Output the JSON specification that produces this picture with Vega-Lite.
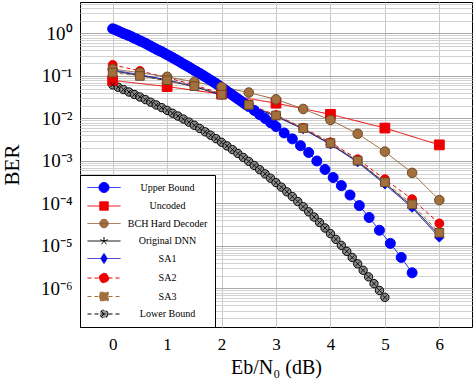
{
  "$schema": "https://vega.github.io/schema/vega-lite/v6.json",
  "width": 392,
  "height": 325,
  "autosize": {"type": "none"},
  "padding": {"left": 80, "top": 2, "right": 2, "bottom": 58},
  "background": "white",
  "config": {
    "font": "Liberation Serif",
    "view": {"stroke": "black", "strokeWidth": 1}
  },
  "resolve": {"legend": {"color": "independent", "shape": "independent", "fill": "independent", "stroke": "independent", "size": "independent", "strokeDash": "independent"}},
  "data": {"values": [
    {"s":"Lower Bound","x":0,"y":0.0617},{"s":"Lower Bound","x":0.1,"y":0.0543},{"s":"Lower Bound","x":0.2,"y":0.0478},{"s":"Lower Bound","x":0.3,"y":0.0419},{"s":"Lower Bound","x":0.4,"y":0.0366},{"s":"Lower Bound","x":0.5,"y":0.032},{"s":"Lower Bound","x":0.6,"y":0.0278},{"s":"Lower Bound","x":0.7,"y":0.0241},{"s":"Lower Bound","x":0.8,"y":0.0208},{"s":"Lower Bound","x":0.9,"y":0.018},
    {"s":"Lower Bound","x":1.0,"y":0.0155},{"s":"Lower Bound","x":1.1,"y":0.0133},{"s":"Lower Bound","x":1.2,"y":0.0114},{"s":"Lower Bound","x":1.3,"y":0.00968},{"s":"Lower Bound","x":1.4,"y":0.0082},{"s":"Lower Bound","x":1.5,"y":0.00692},{"s":"Lower Bound","x":1.6,"y":0.00581},{"s":"Lower Bound","x":1.7,"y":0.00485},{"s":"Lower Bound","x":1.8,"y":0.00404},{"s":"Lower Bound","x":1.9,"y":0.00334},
    {"s":"Lower Bound","x":2.0,"y":0.00275},{"s":"Lower Bound","x":2.1,"y":0.00226},{"s":"Lower Bound","x":2.2,"y":0.00185},{"s":"Lower Bound","x":2.3,"y":0.0015},{"s":"Lower Bound","x":2.4,"y":0.00121},{"s":"Lower Bound","x":2.5,"y":0.000977},{"s":"Lower Bound","x":2.6,"y":0.000783},{"s":"Lower Bound","x":2.7,"y":0.000625},{"s":"Lower Bound","x":2.8,"y":0.000497},{"s":"Lower Bound","x":2.9,"y":0.000393},
    {"s":"Lower Bound","x":3.0,"y":0.000309},{"s":"Lower Bound","x":3.1,"y":0.000242},{"s":"Lower Bound","x":3.2,"y":0.000188},{"s":"Lower Bound","x":3.3,"y":0.000145},{"s":"Lower Bound","x":3.4,"y":0.000111},{"s":"Lower Bound","x":3.5,"y":8.41e-5},{"s":"Lower Bound","x":3.6,"y":6.37e-5},{"s":"Lower Bound","x":3.7,"y":4.79e-5},{"s":"Lower Bound","x":3.8,"y":3.57e-5},{"s":"Lower Bound","x":3.9,"y":2.65e-5},
    {"s":"Lower Bound","x":4.0,"y":1.95e-5},{"s":"Lower Bound","x":4.1,"y":1.43e-5},{"s":"Lower Bound","x":4.2,"y":1.035e-5},{"s":"Lower Bound","x":4.3,"y":7.46e-6},{"s":"Lower Bound","x":4.4,"y":5.35e-6},{"s":"Lower Bound","x":4.5,"y":3.8e-6},{"s":"Lower Bound","x":4.6,"y":2.68e-6},{"s":"Lower Bound","x":4.7,"y":1.875e-6},{"s":"Lower Bound","x":4.8,"y":1.3e-6},{"s":"Lower Bound","x":4.9,"y":8.99e-7},{"s":"Lower Bound","x":5.0,"y":6.17e-7},

    {"s":"Upper Bound","x":0,"y":1.288},{"s":"Upper Bound","x":0.05,"y":1.22},{"s":"Upper Bound","x":0.1,"y":1.148},{"s":"Upper Bound","x":0.15,"y":1.07},{"s":"Upper Bound","x":0.2,"y":1.0},{"s":"Upper Bound","x":0.25,"y":0.944},{"s":"Upper Bound","x":0.3,"y":0.891},{"s":"Upper Bound","x":0.35,"y":0.832},{"s":"Upper Bound","x":0.4,"y":0.776},{"s":"Upper Bound","x":0.45,"y":0.724},{"s":"Upper Bound","x":0.5,"y":0.676},{"s":"Upper Bound","x":0.55,"y":0.631},{"s":"Upper Bound","x":0.6,"y":0.589},{"s":"Upper Bound","x":0.65,"y":0.543},{"s":"Upper Bound","x":0.7,"y":0.501},{"s":"Upper Bound","x":0.75,"y":0.463},{"s":"Upper Bound","x":0.8,"y":0.427},{"s":"Upper Bound","x":0.85,"y":0.398},{"s":"Upper Bound","x":0.9,"y":0.372},{"s":"Upper Bound","x":0.95,"y":0.343},
    {"s":"Upper Bound","x":1.0,"y":0.316},{"s":"Upper Bound","x":1.05,"y":0.292},{"s":"Upper Bound","x":1.1,"y":0.269},{"s":"Upper Bound","x":1.15,"y":0.248},{"s":"Upper Bound","x":1.2,"y":0.229},{"s":"Upper Bound","x":1.25,"y":0.209},{"s":"Upper Bound","x":1.3,"y":0.191},{"s":"Upper Bound","x":1.35,"y":0.176},{"s":"Upper Bound","x":1.4,"y":0.162},{"s":"Upper Bound","x":1.45,"y":0.148},{"s":"Upper Bound","x":1.5,"y":0.135},{"s":"Upper Bound","x":1.55,"y":0.125},{"s":"Upper Bound","x":1.6,"y":0.115},{"s":"Upper Bound","x":1.65,"y":0.105},{"s":"Upper Bound","x":1.7,"y":0.0955},{"s":"Upper Bound","x":1.75,"y":0.0871},{"s":"Upper Bound","x":1.8,"y":0.0794},{"s":"Upper Bound","x":1.85,"y":0.0724},{"s":"Upper Bound","x":1.9,"y":0.0661},{"s":"Upper Bound","x":1.95,"y":0.0596},
    {"s":"Upper Bound","x":2.0,"y":0.0537},{"s":"Upper Bound","x":2.05,"y":0.0484},{"s":"Upper Bound","x":2.1,"y":0.0437},{"s":"Upper Bound","x":2.15,"y":0.0394},{"s":"Upper Bound","x":2.2,"y":0.0355},{"s":"Upper Bound","x":2.25,"y":0.032},{"s":"Upper Bound","x":2.3,"y":0.0288},{"s":"Upper Bound","x":2.35,"y":0.026},{"s":"Upper Bound","x":2.4,"y":0.0234},{"s":"Upper Bound","x":2.45,"y":0.0211},{"s":"Upper Bound","x":2.5,"y":0.0191},{"s":"Upper Bound","x":2.6,"y":0.0155},{"s":"Upper Bound","x":2.7,"y":0.0123},{"s":"Upper Bound","x":2.8,"y":0.01},{"s":"Upper Bound","x":2.9,"y":0.00794},
    {"s":"Upper Bound","x":3.0,"y":0.00646},{"s":"Upper Bound","x":3.15,"y":0.00457},{"s":"Upper Bound","x":3.3,"y":0.00331},{"s":"Upper Bound","x":3.45,"y":0.00229},{"s":"Upper Bound","x":3.6,"y":0.00158},{"s":"Upper Bound","x":3.75,"y":0.001},{"s":"Upper Bound","x":3.9,"y":0.000631},{"s":"Upper Bound","x":4.05,"y":0.000407},{"s":"Upper Bound","x":4.2,"y":0.000263},{"s":"Upper Bound","x":4.36,"y":0.000158},
    {"s":"Upper Bound","x":4.53,"y":8.91e-5},{"s":"Upper Bound","x":4.71,"y":4.68e-5},{"s":"Upper Bound","x":4.9,"y":2.34e-5},{"s":"Upper Bound","x":5.1,"y":1.15e-5},{"s":"Upper Bound","x":5.3,"y":5.37e-6},{"s":"Upper Bound","x":5.5,"y":2.34e-6},

    {"s":"Uncoded","x":0,"y":0.0786},{"s":"Uncoded","x":1,"y":0.0563},{"s":"Uncoded","x":2,"y":0.0375},{"s":"Uncoded","x":3,"y":0.0229},{"s":"Uncoded","x":4,"y":0.0125},{"s":"Uncoded","x":5,"y":0.00595},{"s":"Uncoded","x":6,"y":0.00239},

    {"s":"Original DNN","x":0,"y":0.132},{"s":"Original DNN","x":0.5,"y":0.102},{"s":"Original DNN","x":1,"y":0.0776},{"s":"Original DNN","x":1.5,"y":0.0562},{"s":"Original DNN","x":2,"y":0.0355},{"s":"Original DNN","x":2.5,"y":0.0204},{"s":"Original DNN","x":3,"y":0.0115},{"s":"Original DNN","x":3.5,"y":0.00575},{"s":"Original DNN","x":4,"y":0.00251},{"s":"Original DNN","x":4.5,"y":0.000977},{"s":"Original DNN","x":5,"y":0.000302},{"s":"Original DNN","x":5.5,"y":8.51e-5},{"s":"Original DNN","x":6,"y":1.78e-5},

    {"s":"SA1","x":0,"y":0.138},{"s":"SA1","x":0.5,"y":0.107},{"s":"SA1","x":1,"y":0.0813},{"s":"SA1","x":1.5,"y":0.0575},{"s":"SA1","x":2,"y":0.0363},{"s":"SA1","x":2.5,"y":0.0204},{"s":"SA1","x":3,"y":0.0112},{"s":"SA1","x":3.5,"y":0.00562},{"s":"SA1","x":4,"y":0.00245},{"s":"SA1","x":4.5,"y":0.000933},{"s":"SA1","x":5,"y":0.000282},{"s":"SA1","x":5.5,"y":7.94e-5},{"s":"SA1","x":6,"y":1.58e-5},

    {"s":"SA2","x":0,"y":0.182},{"s":"SA2","x":0.5,"y":0.132},{"s":"SA2","x":1,"y":0.0912},{"s":"SA2","x":1.5,"y":0.0617},{"s":"SA2","x":2,"y":0.038},{"s":"SA2","x":2.5,"y":0.0214},{"s":"SA2","x":3,"y":0.012},{"s":"SA2","x":3.5,"y":0.00603},{"s":"SA2","x":4,"y":0.00275},{"s":"SA2","x":4.5,"y":0.0011},{"s":"SA2","x":5,"y":0.000372},{"s":"SA2","x":5.5,"y":0.000126},{"s":"SA2","x":6,"y":3.39e-5},

    {"s":"BCH Hard Decoder","x":0,"y":0.145},{"s":"BCH Hard Decoder","x":0.5,"y":0.12},{"s":"BCH Hard Decoder","x":1,"y":0.0955},{"s":"BCH Hard Decoder","x":1.5,"y":0.0724},{"s":"BCH Hard Decoder","x":2,"y":0.055},{"s":"BCH Hard Decoder","x":2.5,"y":0.0407},{"s":"BCH Hard Decoder","x":3,"y":0.0282},{"s":"BCH Hard Decoder","x":3.5,"y":0.01675},{"s":"BCH Hard Decoder","x":4,"y":0.00923},{"s":"BCH Hard Decoder","x":4.5,"y":0.00437},{"s":"BCH Hard Decoder","x":5,"y":0.00166},{"s":"BCH Hard Decoder","x":5.5,"y":0.000525},{"s":"BCH Hard Decoder","x":6,"y":0.00012},

    {"s":"SA3","x":0,"y":0.12},{"s":"SA3","x":0.5,"y":0.1},{"s":"SA3","x":1,"y":0.0794},{"s":"SA3","x":1.5,"y":0.0575},{"s":"SA3","x":2,"y":0.0363},{"s":"SA3","x":2.5,"y":0.0209},{"s":"SA3","x":3,"y":0.01175},{"s":"SA3","x":3.5,"y":0.00589},{"s":"SA3","x":4,"y":0.00263},{"s":"SA3","x":4.5,"y":0.00102},{"s":"SA3","x":5,"y":0.000316},{"s":"SA3","x":5.5,"y":9.55e-5},{"s":"SA3","x":6,"y":2.04e-5}
  ]},
  "encoding": {
    "x": {
      "field": "x", "type": "quantitative",
      "scale": {"domain": [-0.6, 6.6], "nice": false, "zero": false},
      "axis": {
        "values": [0,1,2,3,4,5,6],
        "format": "d",
        "domain": false, "ticks": false,
        "labelFont": "Liberation Serif", "labelFontSize": 17, "labelColor": "black",
        "labelPadding": 9, "labelFlush": false,
        "gridColor": "#c8c8c8", "gridWidth": 1, "gridOpacity": 1,
        "title": "Eb/N₀ (dB)",
        "titleFont": "Liberation Serif", "titleFontSize": 20, "titleFontWeight": "normal", "titleColor": "black",
        "titleBaseline": "alphabetic", "titleY": 46, "titleX": 196
      }
    },
    "y": {
      "field": "y", "type": "quantitative",
      "scale": {"type": "log", "domain": [1.24e-7, 5.5], "nice": false},
      "axis": {
        "values": [2e-7,3e-7,4e-7,5e-7,6e-7,7e-7,8e-7,9e-7,1e-6,2e-6,3e-6,4e-6,5e-6,6e-6,7e-6,8e-6,9e-6,1e-5,2e-5,3e-5,4e-5,5e-5,6e-5,7e-5,8e-5,9e-5,1e-4,2e-4,3e-4,4e-4,5e-4,6e-4,7e-4,8e-4,9e-4,0.001,0.002,0.003,0.004,0.005,0.006,0.007,0.008,0.009,0.01,0.02,0.03,0.04,0.05,0.06,0.07,0.08,0.09,0.1,0.2,0.3,0.4,0.5,0.6,0.7,0.8,0.9,1,2,3,4,5],
        "labelExpr": "abs(log(datum.value)/LN10 - round(log(datum.value)/LN10)) > 0.01 ? '' : ['10⁻⁶','10⁻⁵','10⁻⁴','10⁻³','10⁻²','10⁻¹','10⁰'][round(log(datum.value)/LN10) + 6]",
        "labelOverlap": false, "labelFlush": false,
        "domain": false, "ticks": false,
        "labelFont": "Liberation Serif", "labelFontSize": 19, "labelColor": "black",
        "labelPadding": 8,
        "gridColor": {"condition": {"test": "abs(log(datum.value)/LN10 - round(log(datum.value)/LN10)) < 0.01", "value": "#a8a8a8"}, "value": "#d2d2d2"},
        "gridWidth": 1, "gridOpacity": 1,
        "title": "BER",
        "titleFont": "Liberation Serif", "titleFontSize": 21, "titleFontWeight": "normal", "titleColor": "black",
        "titleAngle": 270, "titleBaseline": "alphabetic", "titleAlign": "center",
        "titleX": -62, "titleY": 162.5
      }
    }
  },
  "layer": [
    {
      "mark": {"type": "line", "strokeWidth": 1},
      "encoding": {
        "color": {
          "field": "s", "type": "nominal",
          "scale": {
            "domain": ["Upper Bound","Uncoded","BCH Hard Decoder","Original DNN","SA1","SA2","SA3","Lower Bound"],
            "range": ["#0000ff","#ee0000","#8b5e34","#000000","#1010c0","#ee0000","#a2703c","#000000"]
          },
          "legend": {
            "title": null,
            "orient": "bottom-left",
            "offset": 0,
            "padding": 7,
            "rowPadding": 4.5,
            "fillColor": "white",
            "strokeColor": "black",
            "cornerRadius": 0,
            "symbolSize": 100,
            "symbolOffset": 11.5,
            "labelOffset": 58,
            "labelAlign": "center",
            "labelBaseline": "middle",
            "labelFont": "Liberation Serif",
            "labelFontSize": 10,
            "labelColor": "black",
            "labelLimit": 200,
            "encode": {
              "symbols": {
                "update": {
                  "shape": {"signal": "['M-3.3,0H3.3M1,0A1,1,0,1,1,-1,0A1,1,0,1,1,1,0Z','M-3.3,0H3.3M-0.85,-0.85H0.85V0.85H-0.85Z','M-3.3,0H3.3M0.85,0A0.85,0.85,0,1,1,-0.85,0A0.85,0.85,0,1,1,0.85,0Z','M-3.3,0H3.3M0,0L0,-0.8M0,0L0.76,-0.25M0,0L0.47,0.65M0,0L-0.47,0.65M0,0L-0.76,-0.25','M-3.3,0H3.3M0,-1L0.65,0L0,1L-0.65,0Z','M-3.3,0H3.3M0.95,0A0.95,0.95,0,1,1,-0.95,0A0.95,0.95,0,1,1,0.95,0Z','M-3.3,0H3.3M-0.85,-0.85H0.85V0.85H-0.85Z','M-3.3,0H3.3M0.8,0A0.8,0.8,0,1,1,-0.8,0A0.8,0.8,0,1,1,0.8,0ZM-0.57,-0.57L0.57,0.57M-0.57,0.57L0.57,-0.57'][indexof(['Upper Bound','Uncoded','BCH Hard Decoder','Original DNN','SA1','SA2','SA3','Lower Bound'], datum.value)]"},
                  "fill": {"signal": "['#0000ff','#ee0000','#a2703c','transparent','#0000ff','#ee0000','#a2703c','#9a9a9a'][indexof(['Upper Bound','Uncoded','BCH Hard Decoder','Original DNN','SA1','SA2','SA3','Lower Bound'], datum.value)]"},
                  "stroke": {"signal": "['#0000ff','#ee0000','#6e4a25','#000000','#0000ff','#ee0000','#a2703c','#444444'][indexof(['Upper Bound','Uncoded','BCH Hard Decoder','Original DNN','SA1','SA2','SA3','Lower Bound'], datum.value)]"},
                  "strokeDash": {"signal": "indexof(['Upper Bound','Uncoded','BCH Hard Decoder','Original DNN','SA1','SA2','SA3','Lower Bound'], datum.value) >= 5 ? [4,3] : [1,0]"},
                  "strokeWidth": {"value": 1},
                  "size": {"value": 100},
                  "opacity": {"value": 1}
                }
              }
            }
          }
        },
        "strokeDash": {
          "field": "s", "type": "nominal",
          "scale": {
            "domain": ["Upper Bound","Uncoded","BCH Hard Decoder","Original DNN","SA1","SA2","SA3","Lower Bound"],
            "range": [[1,0],[1,0],[1,0],[1,0],[1,0],[4,3],[4,3],[4,3]]
          },
          "legend": null
        }
      }
    },
    {
      "mark": {"type": "point", "opacity": 1, "strokeWidth": 1},
      "encoding": {
        "shape": {
          "field": "s", "type": "nominal",
          "scale": {
            "domain": ["Upper Bound","Uncoded","BCH Hard Decoder","Original DNN","SA1","SA2","SA3","Lower Bound"],
            "range": ["circle","square","circle","M0,0L0,-1M0,0L0.95,-0.31M0,0L0.59,0.81M0,0L-0.59,0.81M0,0L-0.95,-0.31","diamond","circle","square","circle"]
          },
          "legend": null
        },
        "size": {
          "field": "s", "type": "nominal",
          "scale": {
            "domain": ["Upper Bound","Uncoded","BCH Hard Decoder","Original DNN","SA1","SA2","SA3","Lower Bound"],
            "range": [100,70,55,35,40,60,60,42]
          },
          "legend": null
        },
        "fill": {
          "field": "s", "type": "nominal",
          "scale": {
            "domain": ["Upper Bound","Uncoded","BCH Hard Decoder","Original DNN","SA1","SA2","SA3","Lower Bound"],
            "range": ["#0000ff","#ee0000","#a2703c","transparent","#0000ff","#ee0000","#a2703c","#8a8a8a"]
          },
          "legend": null
        },
        "stroke": {
          "field": "s", "type": "nominal",
          "scale": {
            "domain": ["Upper Bound","Uncoded","BCH Hard Decoder","Original DNN","SA1","SA2","SA3","Lower Bound"],
            "range": ["#0000ff","#ee0000","#6e4a25","#000000","#0000ff","#ee0000","#6e4a25","#000000"]
          },
          "legend": null
        }
      }
    },
    {
      "transform": [{"filter": "datum.s == 'Lower Bound'"}],
      "mark": {"type": "point", "shape": "M-0.7,-0.7L0.7,0.7M-0.7,0.7L0.7,-0.7", "size": 42, "stroke": "black", "strokeWidth": 0.9, "fill": "transparent", "opacity": 1},
      "encoding": {}
    }
  ]
}
